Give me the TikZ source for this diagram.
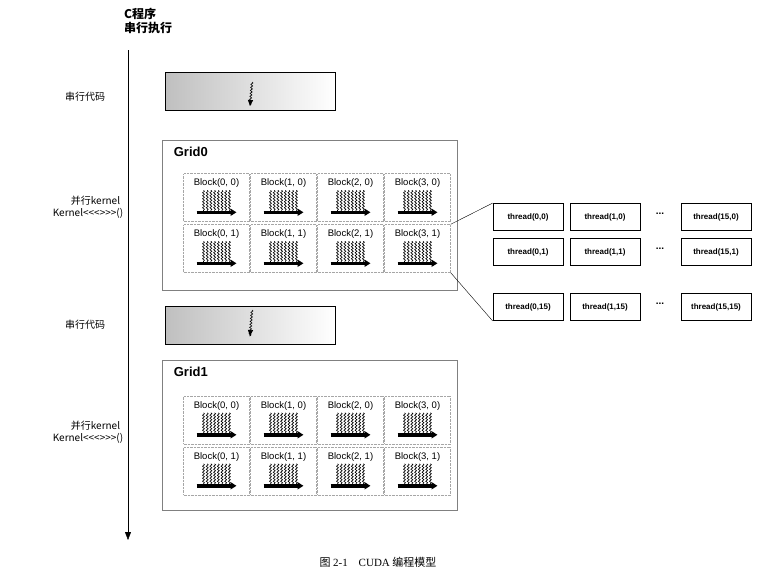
\documentclass[tikz,border=0pt]{standalone}
\usepackage{fontspec}
\setmainfont{Liberation Sans}
\newfontfamily\cjk{Noto Sans CJK SC}
\newfontfamily\capserif{Liberation Serif}
\usetikzlibrary{positioning, decorations.pathmorphing, arrows.meta}

\tikzset{
  lbl/.style={font=\cjk\fontsize{10}{12}\selectfont, align=center},
  serial/.style={draw, thick, left color=gray!50, right color=white, shading angle=90, minimum width=170pt, minimum height=38pt, inner sep=0pt},
  grid/.style={draw=gray, minimum width=295pt, minimum height=150pt, inner sep=0pt},
  block/.style={draw=gray!70, densely dotted, minimum width=66pt, minimum height=48pt, inner sep=0pt},
  thr/.style={draw, thick, font=\bfseries\fontsize{8}{9}\selectfont, minimum width=70pt, minimum height=27pt, inner sep=1pt},
  wave/.style={decorate, decoration={snake, amplitude=1pt, segment length=3pt}, line width=0.6pt},
}

\newcommand{\blockcell}[3]{% name, position, label
  \node[block] (#1) at (#2) {};
  \node[font=\fontsize{9.5}{10}\selectfont, anchor=north] at ([yshift=-2pt]#1.north) {#3};
  \foreach \k in {0,...,7}
    \draw[wave] ([xshift=-13pt+\k*3.7pt, yshift=-17pt]#1.north) -- ++(0,-21pt);
  \draw[line width=3.5pt, -{Triangle[length=6pt,width=7pt]}] ([xshift=-20pt, yshift=-39pt]#1.north) -- ++(40pt,0);
}

\begin{document}
\begin{tikzpicture}[x=1pt, y=-1pt]
\useasboundingbox (0,0) rectangle (761,576);

% time axis
\node[font=\cjk\bfseries\fontsize{12}{14}\selectfont, align=left] (title) at (148,21) {C程序\\串行执行};
\coordinate (top) at (128,50);
\coordinate (bot) at (128,540);
\draw[-{Triangle[length=8pt,width=6pt]}] (top) -- (bot);

% serial code
\node[serial] (s0) at (250,91) {};
\draw[wave, -{Triangle[length=6pt,width=5pt]}] (252,82) -- (250,106);
\node[lbl] (ls0) at (85,97) {串行代码};

% grid 0
\node[grid] (g0) at (310,215) {};
\node[font=\bfseries\fontsize{13}{14}\selectfont, anchor=north west] at ([xshift=8pt, yshift=-4pt]g0.north west) {Grid0};
\foreach \c in {0,...,3} {
  \blockcell{g0b\c0}{216.5+\c*67, 197.5}{Block(\c, 0)}
  \blockcell{g0b\c1}{216.5+\c*67, 248.5}{Block(\c, 1)}
}
\node[lbl] (lk0) at (88,207) {\hspace*{1.5em}并行kernel\\Kernel<<<>>>()};

% threads
\node[thr] (t00) at (528,217) {thread(0,0)};
\node[thr] (t10) at (605,217) {thread(1,0)};
\node[thr] (t150) at (716,217) {thread(15,0)};
\node[thr] (t01) at (528,252) {thread(0,1)};
\node[thr] (t11) at (605,252) {thread(1,1)};
\node[thr] (t151) at (716,252) {thread(15,1)};
\node[thr] (t015) at (528,307) {thread(0,15)};
\node[thr] (t115) at (605,307) {thread(1,15)};
\node[thr] (t1515) at (716,307) {thread(15,15)};
\foreach \r in {217,252,307}
  \node[font=\bfseries] at (660,\r-3) {...};
\draw (g0b31.north east) -- (t00.north west);
\draw (g0b31.south east) -- (t015.south west);

% serial code
\node[serial] (s1) at (250,325) {};
\draw[wave, -{Triangle[length=6pt,width=5pt]}] (252,310) -- (250,336);
\node[lbl] (ls1) at (85,325) {串行代码};

% grid 1
\node[grid] (g1) at (310,435) {};
\node[font=\bfseries\fontsize{13}{14}\selectfont, anchor=north west] at ([xshift=8pt, yshift=-4pt]g1.north west) {Grid1};
\foreach \c in {0,...,3} {
  \blockcell{g1b\c0}{216.5+\c*67, 420}{Block(\c, 0)}
  \blockcell{g1b\c1}{216.5+\c*67, 471}{Block(\c, 1)}
}
\node[lbl] (lk1) at (88,432) {\hspace*{1.5em}并行kernel\\Kernel<<<>>>()};

% caption
\node[font=\cjk\fontsize{11}{12}\selectfont] (cap) at (378,562) {图 {\capserif 2-1}\quad {\capserif CUDA} 编程模型};
\end{tikzpicture}
\end{document}
